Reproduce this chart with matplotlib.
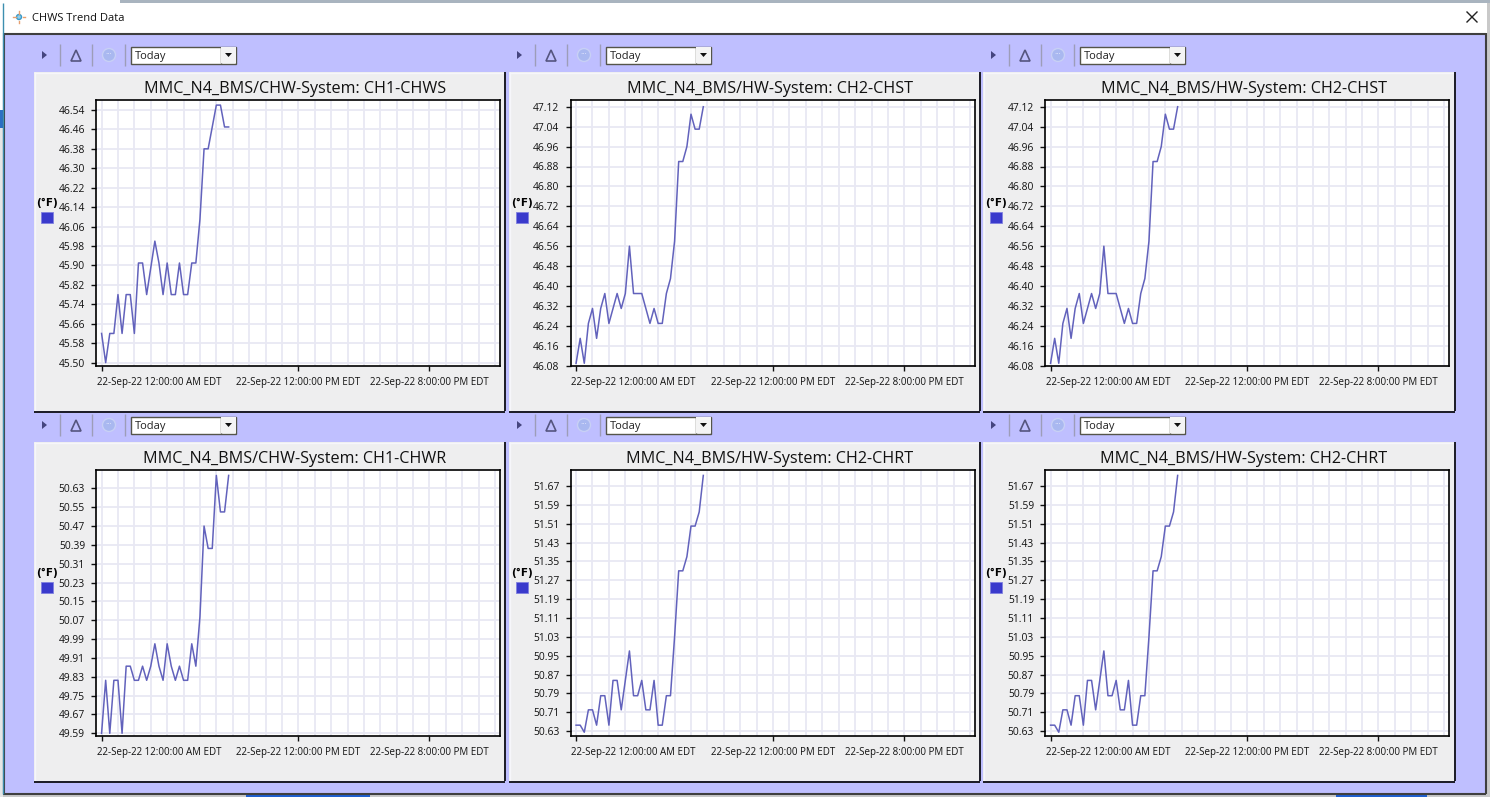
import matplotlib
matplotlib.use("Agg")
import matplotlib.pyplot as plt
from matplotlib.patches import Rectangle, Circle, Polygon
from matplotlib.transforms import ScaledTranslation

plt.rcParams['font.family'] = ['Open Sans', 'DejaVu Sans']

W, H = 1490, 797

# one reading every 15 minutes from midnight
chws = [45.62, 45.50, 45.62, 45.62, 45.78, 45.62, 45.78, 45.78, 45.62, 45.91, 45.91, 45.78,
        45.89, 46.00, 45.91, 45.78, 45.91, 45.78, 45.78, 45.91, 45.78, 45.78, 45.91, 45.91,
        46.09, 46.38, 46.38, 46.47, 46.56, 46.56, 46.47, 46.47]
chst = [46.09, 46.19, 46.09, 46.25, 46.31, 46.19, 46.31, 46.37, 46.25, 46.31, 46.37, 46.31,
        46.37, 46.56, 46.37, 46.37, 46.37, 46.31, 46.25, 46.31, 46.25, 46.25, 46.37, 46.43,
        46.58, 46.90, 46.90, 46.96, 47.09, 47.03, 47.03, 47.12]
chwr = [49.59, 49.815, 49.59, 49.815, 49.815, 49.59, 49.875, 49.875, 49.815, 49.815, 49.875, 49.815,
        49.875, 49.97, 49.875, 49.815, 49.97, 49.875, 49.815, 49.875, 49.815, 49.815, 49.97, 49.875,
        50.085, 50.47, 50.375, 50.375, 50.685, 50.53, 50.53, 50.685]
chrt = [50.655, 50.655, 50.625, 50.72, 50.72, 50.655, 50.78, 50.78, 50.655, 50.845, 50.845, 50.72,
        50.845, 50.97, 50.78, 50.78, 50.845, 50.72, 50.72, 50.845, 50.655, 50.655, 50.78, 50.78,
        51.03, 51.31, 51.31, 51.37, 51.50, 51.50, 51.56, 51.715]

ticks_chws = [45.50, 45.58, 45.66, 45.74, 45.82, 45.90, 45.98, 46.06, 46.14, 46.22, 46.30, 46.38, 46.46, 46.54]
ticks_chst = [46.08, 46.16, 46.24, 46.32, 46.40, 46.48, 46.56, 46.64, 46.72, 46.80, 46.88, 46.96, 47.04, 47.12]
ticks_chwr = [49.59, 49.67, 49.75, 49.83, 49.91, 49.99, 50.07, 50.15, 50.23, 50.31, 50.39, 50.47, 50.55, 50.63]
ticks_chrt = [50.63, 50.71, 50.79, 50.87, 50.95, 51.03, 51.11, 51.19, 51.27, 51.35, 51.43, 51.51, 51.59, 51.67]

x_tick_hours = [0, 12, 20]
x_tick_labels = ["22-Sep-22 12:00:00 AM EDT", "22-Sep-22 12:00:00 PM EDT", "22-Sep-22 8:00:00 PM EDT"]

LAV = '#bfbfff'
LINE = '#6262bc'
GRID = '#e8e8f3'
PANEL = '#eeeeef'

fig = plt.figure(figsize=(W / 100, H / 100), dpi=100)
bg = fig.add_axes([0, 0, 1, 1], zorder=0)
bg.set_xlim(0, W)
bg.set_ylim(H, 0)
bg.axis('off')


def rect(x0, y0, x1, y1, fc, ec='none', lw=0, z=1):
    bg.add_patch(Rectangle((x0, y0), x1 - x0, y1 - y0, fc=fc, ec=ec, lw=lw, zorder=z))


def hline(x0, x1, y, c, lw=1, z=3):
    bg.plot([x0, x1], [y, y], color=c, lw=lw, zorder=z, solid_capstyle='butt')


def vline(x, y0, y1, c, lw=1, z=3):
    bg.plot([x, x], [y0, y1], color=c, lw=lw, zorder=z, solid_capstyle='butt')


# window behind the dialog
rect(0, 0, W, H, '#c9c9c9')
rect(0, 0, 120, 3, '#ffffff')
rect(120, 0, W, 3, '#a9b4bf')
rect(0, 3, 3, 110, '#ffffff')
rect(0, 110, 3, 128, '#2b6fc4')
rect(0, 128, 3, H, '#e6e6e6')
rect(246, 794, 370, H, '#1f5fd0')
rect(1336, 794, 1427, H, '#1f5fd0')

# dialog
rect(3, 3, 1487, 34, '#ffffff')
rect(3, 34, 1486, 794, LAV)
hline(3, 1486, 33.5, '#3f3f3f', 1.5)
vline(3.5, 33, 794, '#3f3f3f', 1.5)
vline(1485.5, 33, 794, '#3f3f3f', 1.5)
hline(3, 1486, 793.5, '#3f3f3f', 1.5)
vline(2.5, 3, 794, '#3d8fb0', 1)
bg.text(32, 18, "CHWS Trend Data", fontsize=8, va='center', ha='left', color='#111111')
bg.add_patch(Circle((19, 17), 2.5, fc='#8fd0ee', ec='#3a9ac8', lw=1, zorder=3))
for dx, dy in [(-5, 0), (5, 0), (0, -5), (0, 5)]:
    bg.plot([19 + dx * 0.7, 19 + dx * 1.2], [17 + dy * 0.7, 17 + dy * 1.2], color='#e8a070', lw=1, zorder=3)
bg.plot([1467, 1477], [12, 22], color='#222222', lw=1, zorder=3)
bg.plot([1467, 1477], [22, 12], color='#222222', lw=1, zorder=3)


def toolbar(dx, y):
    bg.add_patch(Polygon([(dx + 42, y - 4), (dx + 47, y), (dx + 42, y + 4)], fc='#45457f', zorder=3))
    for sx in (60, 92, 125):
        vline(dx + sx, y - 11, y + 11, '#9d9db8', 1)
    bg.add_patch(Polygon([(dx + 71, y + 6), (dx + 76, y - 5), (dx + 81, y + 6)], fc='none', ec='#55557f', lw=1.2, zorder=3))
    bg.add_patch(Circle((dx + 109, y), 6.5, fc='#a9b8f0', ec='#c8d0f5', lw=1, zorder=3))
    bg.text(dx + 109, y - 0.5, "···", color='#e8ecff', fontsize=6, ha='center', va='center', zorder=4)
    rect(dx + 131, y - 8.5, dx + 236, y + 8.5, '#ffffff', '#55554a', 1, 3)
    vline(dx + 220.5, y - 8, y + 8, '#55554a', 1, 4)
    rect(dx + 221, y - 8, dx + 236, y + 8, '#f4f4f4', z=4)
    bg.add_patch(Polygon([(dx + 225, y - 2), (dx + 232, y - 2), (dx + 228.5, y + 2)], fc='#111111', zorder=5))
    bg.text(dx + 135, y + 1, "Today", fontsize=8, va='center', ha='left', color='#222222', zorder=5)


def panel(px0, px1, py0, py1, ax0, ax1, ay0, ay1, title, hours, values, yticks, ymin, ymax):
    rect(px0, py0, px1, py1, PANEL)
    hline(px0, px1, py0 + 0.5, '#f6f6fa', 1)
    vline(px0 + 0.5, py0, py1, '#f6f6fa', 1)
    hline(px0, px1 + 1, py1 + 0.5, '#000000', 1.2)
    vline(px1 + 0.5, py0, py1, '#000000', 1.2)
    bg.text((ax0 + ax1) / 2 - 3, py0 + 16.5, title, fontsize=11.65, ha='center', va='center', color='#111111', zorder=4)
    bg.text(px0 + 13, (ay0 + ay1) / 2 - 30, "(°F)", fontsize=7.5, fontweight='bold', family=['DejaVu Sans'],
            ha='center', va='center', zorder=4)
    rect(px0 + 7, (ay0 + ay1) / 2 - 21, px0 + 19, (ay0 + ay1) / 2 - 10, '#3a3acc', '#8080e0', 0.6, 4)

    ax = fig.add_axes([ax0 / W, 1 - ay1 / H, (ax1 - ax0) / W, (ay1 - ay0) / H], zorder=2)
    ax.plot(hours, values, color=LINE, lw=1.1, zorder=3)
    ax.set_xlim(-0.34, 24.3)
    ax.set_ylim(ymin, ymax)
    ax.set_yticks(yticks)
    ax.set_yticklabels(["%.2f" % v for v in yticks])
    ax.set_xticks(list(range(0, 25)), minor=True)
    ax.set_xticks(x_tick_hours)
    ax.set_xticklabels(x_tick_labels)
    ax.grid(True, which='both', axis='x', color=GRID, lw=1.3)
    ax.grid(True, which='major', axis='y', color=GRID, lw=1.3)
    ax.set_axisbelow(True)
    ax.tick_params(axis='y', which='major', labelsize=7.4, length=3.6, width=1, pad=4.3, colors='#111111')
    ax.tick_params(axis='x', which='major', labelsize=7, length=3.6, width=1, pad=4.4, colors='#111111')
    ax.tick_params(axis='x', which='minor', length=0)
    labels = ax.get_xticklabels()
    labels[0].set_ha('left')
    labels[0].set_transform(labels[0].get_transform() + ScaledTranslation(-0.05, 0, fig.dpi_scale_trans))
    for s in ax.spines.values():
        s.set_linewidth(1.2)
        s.set_color('#000000')
    return ax


hours = [i * 0.25 for i in range(len(chws))]

columns = [(34, 504, 96, 500), (509, 979, 570.5, 975), (983, 1454, 1045, 1449)]
top_series = [("MMC_N4_BMS/CHW-System: CH1-CHWS", chws, ticks_chws, 45.486, 46.581),
              ("MMC_N4_BMS/HW-System: CH2-CHST", chst, ticks_chst, 46.079, 47.147),
              ("MMC_N4_BMS/HW-System: CH2-CHST", chst, ticks_chst, 46.079, 47.147)]
bottom_series = [("MMC_N4_BMS/CHW-System: CH1-CHWR", chwr, ticks_chwr, 49.5785, 50.708),
                 ("MMC_N4_BMS/HW-System: CH2-CHRT", chrt, ticks_chrt, 50.609, 51.738),
                 ("MMC_N4_BMS/HW-System: CH2-CHRT", chrt, ticks_chrt, 50.609, 51.738)]

for (c, s) in zip(columns, top_series):
    panel(c[0], c[1], 72, 411, c[2], c[3], 100, 366, s[0], hours, s[1], s[2], s[3], s[4])
for (c, s) in zip(columns, bottom_series):
    panel(c[0], c[1], 442, 781, c[2], c[3], 470, 736, s[0], hours, s[1], s[2], s[3], s[4])

for dx in (0, 475, 949):
    toolbar(dx, 55)
    toolbar(dx, 425)

fig.savefig("out.png", dpi=100)
